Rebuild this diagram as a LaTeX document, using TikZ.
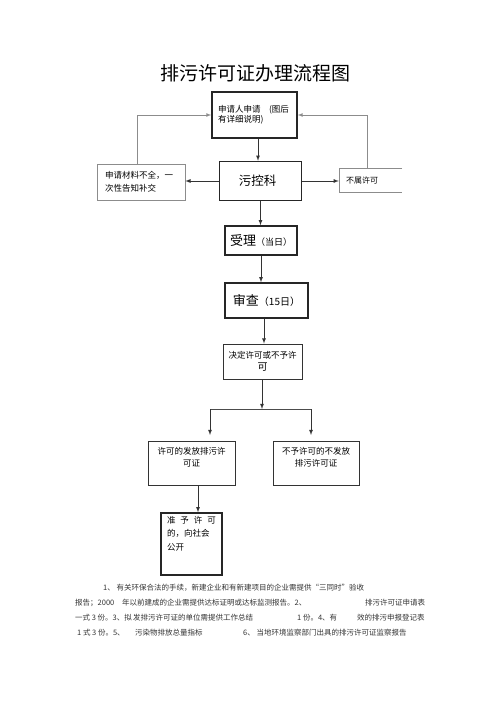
\documentclass[tikz,border=0pt]{standalone}
\usepackage{fontspec}
\setmainfont{Noto Sans CJK SC}
\usetikzlibrary{arrows,positioning}

\tikzset{
  bigbox/.style={draw=black!85, line width=1.5pt, inner sep=0pt},
  thinbox/.style={draw=black!45, line width=0.6pt, inner sep=0pt},
  midbox/.style={draw=black!80, line width=0.9pt, inner sep=0pt},
  flow/.style={-latex, draw=black!80, line width=0.8pt},
  back/.style={-latex, draw=black!45, line width=0.7pt},
  plain/.style={draw=black!70, line width=0.8pt},
  note/.style={anchor=west, inner sep=0pt, font=\fontsize{7.5}{9}\selectfont, text=black!80}
}

\begin{document}
\begin{tikzpicture}[x=1pt, y=-1pt]
  \useasboundingbox (0,0) rectangle (500,707);

  \node (title) at (255,73) {\fontsize{19}{19}\selectfont 排污许可证办理流程图};

  % main column
  \node[bigbox, minimum width=85pt, minimum height=46pt] (apply) at (254.5,115)
    {\parbox{73pt}{\fontsize{8.5}{10}\selectfont 申请人申请\quad(图后\\有详细说明)}};
  \node[thinbox, minimum width=88pt, minimum height=36pt] (supply) at (141,182)
    {\parbox{72pt}{\fontsize{8.5}{13}\selectfont 申请材料不全，一\\次性告知补交}};
  \node[bigbox, minimum width=82pt, minimum height=39pt] (dept) at (260.5,181)
    {\fontsize{12.5}{13}\selectfont 污控科\hspace*{6pt}};
  \node[inner sep=0pt, minimum width=63pt, minimum height=24pt] (notlic) at (370.5,180)
    {\parbox{49pt}{\fontsize{8}{9}\selectfont 不属许可}};
  \node[bigbox, minimum width=72pt, minimum height=29pt] (accept) at (261,240.5)
    {\fontsize{13}{14}\selectfont 受理\fontsize{9}{10}\selectfont （当日）};
  \node[bigbox, minimum width=83pt, minimum height=35pt] (review) at (266.5,300.5)
    {\fontsize{13}{14}\selectfont 审查\fontsize{10}{11}\selectfont （15日）};
  \node[midbox, minimum width=79pt, minimum height=35pt, align=center] (decide) at (262.5,361.5)
    {\fontsize{8.5}{13}\selectfont 决定许可或不予许\\可};

  % outcomes
  \node[midbox, minimum width=87pt, minimum height=44pt] (grant) at (191.5,463)
    {\parbox[c][32pt][t]{80pt}{\centering\fontsize{8.5}{12}\selectfont 许可的发放排污许\\可证}};
  \node[midbox, minimum width=86pt, minimum height=44pt] (deny) at (316,463)
    {\parbox[c][32pt][t]{80pt}{\centering\fontsize{8.5}{12}\selectfont 不予许可的不发放\\排污许可证}};
  \node[bigbox, minimum width=61pt, minimum height=62pt] (publish) at (191.5,544)
    {\parbox[c][56pt][t]{49pt}{\fontsize{8.5}{13.5}\selectfont 准\hfill 予\hfill 许\hfill 可\\的，向社会\\公开}};

  \draw[thinbox] (notlic.north east) -- (notlic.north west) -- (notlic.south west) -- (notlic.south east);

  % connectors
  \draw[flow] ([xshift=3.5pt]apply.south) -- ([xshift=3.5pt]apply.south |- dept.north);
  \draw[flow] (dept.west) -- (supply.east |- dept.west);
  \draw[flow] (dept.east) -- (notlic.west |- dept.east);
  \draw[back] ([xshift=-4pt]supply.north) |- (apply.west);
  \draw[back] ([xshift=-3.5pt]notlic.north) |- (apply.east);
  \draw[flow] (dept.south) -- (dept.south |- accept.north);
  \draw[flow] (accept.south) -- (accept.south |- review.north);
  \draw[flow] ([xshift=-2.5pt]review.south) -- ([xshift=-2.5pt]review.south |- decide.north);

  \coordinate (fork) at (262,409);
  \coordinate (forkl) at (210,409);
  \coordinate (forkr) at (311,409);
  \coordinate (tipl) at (210,435);
  \coordinate (tipr) at (311,435);
  \draw[flow] (decide.south -| fork) -- (fork);
  \draw[plain] (forkl) -- (forkr);
  \draw[flow] (forkl) -- (tipl);
  \draw[flow] (forkr) -- (tipr);
  \draw[flow] ([xshift=6.5pt]grant.south) -- ([xshift=6.5pt]grant.south |- publish.north);

  % notes below
  \node[note] (n1) at (103,588) {1、\ 有关环保合法的手续，新建企业和有新建项目的企业需提供“三同时”验收};
  \node[note] (n2a) at (75,603) {报告；2000};
  \node[note] (n2b) at (122,603) {年以前建成的企业需提供达标证明或达标监测报告。2、};
  \node[note] (n2c) at (365,603) {排污许可证申请表};
  \node[note] (n3a) at (75,618) {一式 3 份。3、拟};
  \node[note] (n3b) at (133,618) {发排污许可证的单位需提供工作总结};
  \node[note] (n3c) at (297,618) {1 份。4、有};
  \node[note] (n3d) at (357,618) {效的排污申报登记表};
  \node[note] (n4a) at (77,633) {1 式 3 份。5、};
  \node[note] (n4b) at (135,633) {污染物排放总量指标};
  \node[note] (n4c) at (243,633) {6、\ 当地环境监察部门出具的排污许可证监察报告};
\end{tikzpicture}
\end{document}
